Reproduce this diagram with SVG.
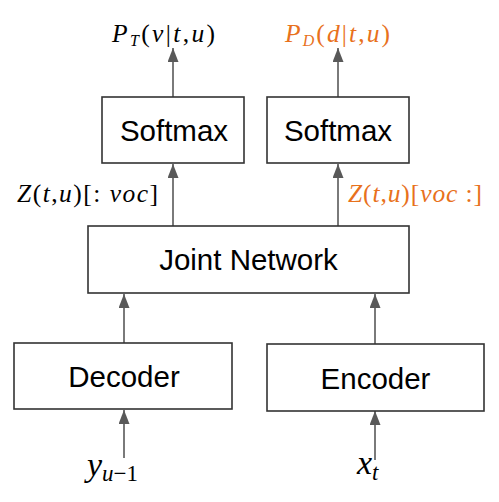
<svg xmlns="http://www.w3.org/2000/svg" width="499" height="502" viewBox="0 0 499 502">
<style>
.box{fill:#ffffff;stroke:#333333;stroke-width:1.6}
.lbl{font-family:"Liberation Sans",Arial,sans-serif;font-size:29.5px;fill:#000;text-anchor:middle}
.math{font-family:"Liberation Serif","Times New Roman",serif;font-size:25.5px;fill:#000}
.it{font-style:italic}
.or{fill:#e8711c}
.conn line{stroke:#595959;stroke-width:1.6;marker-end:url(#ah)}
</style>
<defs>
<marker id="ah" viewBox="0 0 14 11" refX="14" refY="5.5" markerWidth="14" markerHeight="11" markerUnits="userSpaceOnUse" orient="auto">
<path d="M0,0 L14,5.5 L0,11 z" fill="#595959"/>
</marker>
</defs>
<rect width="499" height="502" fill="#ffffff"/>
<g class="conn">
<line x1="173" y1="97" x2="173" y2="48"/>
<line x1="338" y1="97" x2="338" y2="48"/>
<line x1="173" y1="226" x2="173" y2="164"/>
<line x1="338" y1="226" x2="338" y2="164"/>
<line x1="124" y1="343" x2="124" y2="294"/>
<line x1="375" y1="344" x2="375" y2="294"/>
<line x1="124" y1="458" x2="124" y2="410"/>
<line x1="375" y1="460" x2="375" y2="411"/>
</g>
<g id="softmax1">
<rect class="box" x="102" y="97" width="142" height="66"/>
<text class="lbl" x="174" y="141">Softmax</text>
</g>
<g id="softmax2">
<rect class="box" x="267" y="97" width="142" height="66"/>
<text class="lbl" x="338" y="141">Softmax</text>
</g>
<g id="joint">
<rect class="box" x="88" y="226" width="321" height="67"/>
<text class="lbl" x="248.5" y="270">Joint Network</text>
</g>
<g id="decoder">
<rect class="box" x="14" y="343" width="218" height="66"/>
<text class="lbl" x="124" y="387">Decoder</text>
</g>
<g id="encoder">
<rect class="box" x="267" y="344" width="217" height="67"/>
<text class="lbl" x="375.5" y="389">Encoder</text>
</g>
<g id="labels">
<text class="math" x="112" y="42" textLength="103" lengthAdjust="spacing"><tspan class="it">P</tspan><tspan class="it" style="font-size:16px" dy="4">T</tspan><tspan dy="-4">(</tspan><tspan class="it">v</tspan>|<tspan class="it">t</tspan>,<tspan class="it">u</tspan>)</text>
<text class="math or" x="285" y="42" textLength="105" lengthAdjust="spacing"><tspan class="it">P</tspan><tspan class="it" style="font-size:16px" dy="4">D</tspan><tspan dy="-4">(</tspan><tspan class="it">d</tspan>|<tspan class="it">t</tspan>,<tspan class="it">u</tspan>)</text>
<text class="math" x="17" y="202" textLength="141" lengthAdjust="spacing"><tspan class="it">Z</tspan>(<tspan class="it">t</tspan>,<tspan class="it">u</tspan>)[: <tspan class="it">voc</tspan>]</text>
<text class="math or" x="348" y="202" textLength="134" lengthAdjust="spacing"><tspan class="it">Z</tspan>(<tspan class="it">t</tspan>,<tspan class="it">u</tspan>)[<tspan class="it">voc</tspan> :]</text>
<text class="math" x="87" y="476" style="font-size:34px"><tspan class="it">y</tspan><tspan style="font-size:23px" dy="5"><tspan class="it">u</tspan>−1</tspan></text>
<text class="math" x="357" y="474" style="font-size:34px"><tspan class="it">x</tspan><tspan class="it" style="font-size:23px" dy="6">t</tspan></text>
</g>
</svg>
